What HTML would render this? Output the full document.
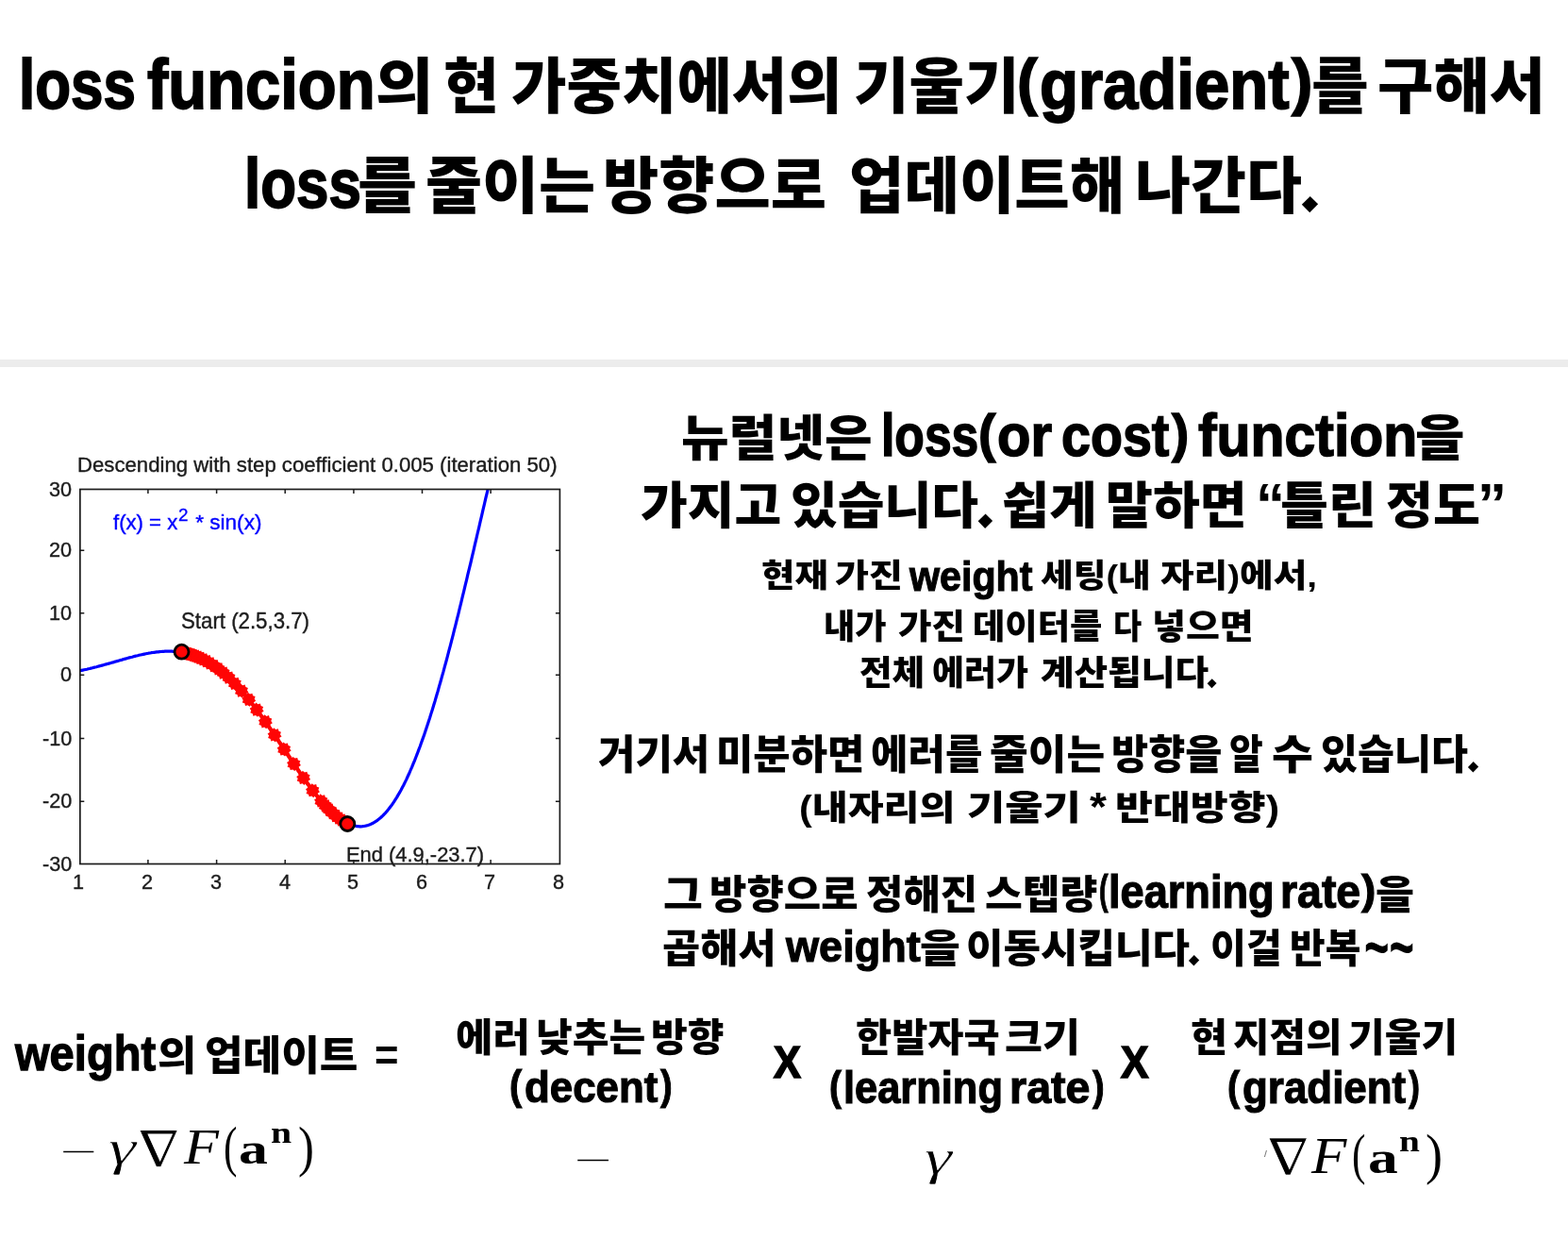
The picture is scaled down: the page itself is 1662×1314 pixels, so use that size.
<!DOCTYPE html>
<html lang="ko"><head><meta charset="utf-8"><title>Gradient descent</title>
<style>
html,body{margin:0;padding:0;background:#fff}
body{width:1662px;height:1314px;position:relative;overflow:hidden}
.t{position:absolute;white-space:pre;line-height:1;transform-origin:0 0;color:#000;font-weight:900}
.g{margin:0;padding:0;font-size:16px;font-weight:normal}
.s{font-family:"Liberation Sans","Noto Sans CJK KR",sans-serif}
.r{font-family:"Liberation Serif","DejaVu Serif",serif}
#sep{position:absolute;left:0;top:381px;width:1662px;height:8px;background:#ececec}
#chart{position:absolute;left:0;top:0}
</style></head><body>
<div id="sep"></div>
<i style="position:absolute;left:1341.2px;top:1219px;width:1.4px;height:6.5px;background:#777;transform:skewX(-16deg)"></i>
<svg id="chart" width="1662" height="1314" viewBox="0 0 1662 1314">
<defs><clipPath id="cb"><rect x="84.8" y="518.5" width="508.5" height="397.0"/></clipPath></defs>
<path d="M84.8 710.7L86.3 710.4L87.8 710.1L89.2 709.8L90.7 709.5L92.1 709.2L93.6 708.8L95.0 708.5L96.5 708.1L97.9 707.8L99.4 707.4L100.8 707.0L102.3 706.7L103.7 706.3L105.2 705.9L106.6 705.5L108.1 705.1L109.6 704.7L111.0 704.3L112.5 703.9L113.9 703.5L115.4 703.1L116.8 702.7L118.3 702.3L119.7 701.9L121.2 701.4L122.6 701.0L124.1 700.6L125.5 700.2L127.0 699.8L128.4 699.4L129.9 698.9L131.3 698.5L132.8 698.1L134.3 697.7L135.7 697.3L137.2 696.9L138.6 696.5L140.1 696.2L141.5 695.8L143.0 695.4L144.4 695.0L145.9 694.7L147.3 694.3L148.8 694.0L150.2 693.7L151.7 693.4L153.1 693.1L154.6 692.8L156.0 692.5L157.5 692.2L159.0 692.0L160.4 691.7L161.9 691.5L163.3 691.3L164.8 691.1L166.2 690.9L167.7 690.8L169.1 690.6L170.6 690.5L172.0 690.4L173.5 690.3L174.9 690.2L176.4 690.2L177.8 690.2L179.3 690.2L180.7 690.2L182.2 690.2L183.7 690.3L185.1 690.4L186.6 690.5L188.0 690.7L189.5 690.9L190.9 691.1L192.4 691.3L193.8 691.5L195.3 691.8L196.7 692.1L198.2 692.5L199.6 692.8L201.1 693.2L202.5 693.7L204.0 694.1L205.4 694.6L206.9 695.1L208.4 695.7L209.8 696.3L211.3 696.9L212.7 697.5L214.2 698.2L215.6 698.9L217.1 699.7L218.5 700.4L220.0 701.2L221.4 702.1L222.9 703.0L224.3 703.9L225.8 704.8L227.2 705.8L228.7 706.8L230.2 707.9L231.6 709.0L233.1 710.1L234.5 711.2L236.0 712.4L237.4 713.7L238.9 714.9L240.3 716.2L241.8 717.5L243.2 718.9L244.7 720.3L246.1 721.7L247.6 723.1L249.0 724.6L250.5 726.1L251.9 727.7L253.4 729.3L254.9 730.9L256.3 732.5L257.8 734.2L259.2 735.9L260.7 737.6L262.1 739.3L263.6 741.1L265.0 742.9L266.5 744.8L267.9 746.6L269.4 748.5L270.8 750.4L272.3 752.3L273.7 754.3L275.2 756.2L276.6 758.2L278.1 760.3L279.6 762.3L281.0 764.3L282.5 766.4L283.9 768.5L285.4 770.6L286.8 772.7L288.3 774.8L289.7 776.9L291.2 779.1L292.6 781.2L294.1 783.4L295.5 785.6L297.0 787.7L298.4 789.9L299.9 792.1L301.3 794.3L302.8 796.5L304.3 798.7L305.7 800.9L307.2 803.0L308.6 805.2L310.1 807.4L311.5 809.6L313.0 811.7L314.4 813.9L315.9 816.0L317.3 818.1L318.8 820.2L320.2 822.3L321.7 824.4L323.1 826.4L324.6 828.5L326.0 830.5L327.5 832.5L329.0 834.4L330.4 836.4L331.9 838.3L333.3 840.2L334.8 842.0L336.2 843.8L337.7 845.6L339.1 847.4L340.6 849.1L342.0 850.8L343.5 852.4L344.9 854.0L346.4 855.5L347.8 857.0L349.3 858.5L350.7 859.9L352.2 861.3L353.7 862.6L355.1 863.8L356.6 865.0L358.0 866.2L359.5 867.3L360.9 868.3L362.4 869.3L363.8 870.2L365.3 871.0L366.7 871.8L368.2 872.5L369.6 873.2L371.1 873.7L372.5 874.2L374.0 874.7L375.4 875.0L376.9 875.3L378.4 875.6L379.8 875.7L381.3 875.8L382.7 875.8L384.2 875.7L385.6 875.5L387.1 875.2L388.5 874.9L390.0 874.5L391.4 874.0L392.9 873.4L394.3 872.7L395.8 872.0L397.2 871.1L398.7 870.2L400.2 869.1L401.6 868.0L403.1 866.8L404.5 865.5L406.0 864.1L407.4 862.6L408.9 861.1L410.3 859.4L411.8 857.6L413.2 855.8L414.7 853.8L416.1 851.8L417.6 849.6L419.0 847.4L420.5 845.1L421.9 842.6L423.4 840.1L424.9 837.5L426.3 834.8L427.8 832.0L429.2 829.1L430.7 826.1L432.1 823.0L433.6 819.8L435.0 816.5L436.5 813.1L437.9 809.7L439.4 806.1L440.8 802.5L442.3 798.7L443.7 794.9L445.2 791.0L446.6 787.0L448.1 782.9L449.6 778.7L451.0 774.5L452.5 770.1L453.9 765.7L455.4 761.2L456.8 756.6L458.3 751.9L459.7 747.2L461.2 742.4L462.6 737.5L464.1 732.5L465.5 727.4L467.0 722.3L468.4 717.1L469.9 711.9L471.3 706.6L472.8 701.2L474.3 695.7L475.7 690.2L477.2 684.7L478.6 679.1L480.1 673.4L481.5 667.7L483.0 661.9L484.4 656.1L485.9 650.3L487.3 644.4L488.8 638.4L490.2 632.4L491.7 626.4L493.1 620.4L494.6 614.3L496.0 608.2L497.5 602.1L499.0 596.0L500.4 589.8L501.9 583.6L503.3 577.4L504.8 571.2L506.2 565.0L507.7 558.8L509.1 552.6L510.6 546.4L512.0 540.1L513.5 533.9L514.9 527.7L516.4 521.6L517.8 515.4L519.3 509.2L520.7 503.1L522.2 497.0L523.7 491.0L525.1 484.9L526.6 478.9L528.0 473.0L529.5 467.0L530.9 461.2L532.4 455.3L533.8 449.6L535.3 443.8" fill="none" stroke="#0000ff" stroke-width="3.2" stroke-linejoin="round" clip-path="url(#cb)"/>
<path d="M193.8 691.5L194.6 691.7L195.9 691.9L197.4 692.3L199.0 692.7L200.7 693.1L202.6 693.7L204.7 694.3L207.0 695.2L209.5 696.1L212.3 697.3L215.4 698.8L218.9 700.6L222.7 702.8L226.9 705.6L231.5 708.9L236.7 713.1L242.5 718.2L248.9 724.5L255.9 732.1L263.7 741.3L272.2 752.2L281.3 764.8L291.0 778.9L301.2 794.0L311.5 809.5L321.7 824.4L331.4 837.7L340.4 848.9L344.8 853.9L348.9 858.1L352.6 861.7L356.1 864.6L359.2 867.0L361.9 869.0L364.4 870.5L366.6 871.7L368.2 872.5" fill="none" stroke="#ff0505" stroke-width="4.2" stroke-linejoin="round"/>
<g fill="#ff0505"><polygon points="201.3,693.0 199.0,694.5 199.0,697.1 196.3,697.0 194.7,699.1 192.6,697.4 190.1,698.1 189.4,695.6 186.9,694.7 187.9,692.2 186.4,690.0 188.6,688.6 188.7,685.9 191.3,686.1 193.0,684.0 195.0,685.7 197.6,684.9 198.2,687.5 200.7,688.4 199.8,690.8"/><polygon points="202.0,693.2 199.8,694.6 199.7,697.3 197.1,697.1 195.5,699.2 193.4,697.6 190.9,698.3 190.2,695.7 187.7,694.8 188.6,692.4 187.1,690.2 189.4,688.7 189.5,686.1 192.1,686.2 193.7,684.1 195.8,685.8 198.3,685.1 199.0,687.6 201.5,688.5 200.6,691.0"/><polygon points="203.4,693.5 201.1,694.9 201.1,697.5 198.4,697.4 196.8,699.5 194.7,697.8 192.2,698.6 191.5,696.0 189.0,695.1 190.0,692.6 188.5,690.4 190.7,689.0 190.8,686.3 193.4,686.5 195.1,684.4 197.1,686.1 199.7,685.3 200.3,687.9 202.8,688.8 201.9,691.3"/><polygon points="204.8,693.8 202.6,695.2 202.5,697.9 199.9,697.7 198.2,699.8 196.2,698.1 193.6,698.9 193.0,696.3 190.5,695.4 191.4,693.0 189.9,690.8 192.2,689.3 192.2,686.7 194.9,686.8 196.5,684.7 198.6,686.4 201.1,685.7 201.8,688.2 204.3,689.1 203.3,691.6"/><polygon points="206.4,694.2 204.2,695.6 204.1,698.3 201.5,698.1 199.8,700.2 197.8,698.5 195.2,699.3 194.5,696.7 192.1,695.8 193.0,693.3 191.5,691.1 193.7,689.7 193.8,687.1 196.5,687.2 198.1,685.1 200.2,686.8 202.7,686.0 203.4,688.6 205.9,689.5 204.9,692.0"/><polygon points="208.2,694.6 205.9,696.1 205.8,698.7 203.2,698.6 201.6,700.7 199.5,699.0 197.0,699.7 196.3,697.2 193.8,696.3 194.7,693.8 193.3,691.6 195.5,690.2 195.6,687.5 198.2,687.7 199.8,685.6 201.9,687.2 204.4,686.5 205.1,689.1 207.6,690.0 206.7,692.4"/><polygon points="210.1,695.2 207.8,696.6 207.7,699.3 205.1,699.1 203.5,701.2 201.4,699.6 198.9,700.3 198.2,697.7 195.7,696.8 196.6,694.4 195.2,692.2 197.4,690.7 197.5,688.1 200.1,688.2 201.7,686.1 203.8,687.8 206.3,687.1 207.0,689.6 209.5,690.5 208.6,693.0"/><polygon points="212.2,695.9 209.9,697.3 209.8,699.9 207.2,699.8 205.6,701.9 203.5,700.2 201.0,701.0 200.3,698.4 197.8,697.5 198.7,695.0 197.3,692.8 199.5,691.4 199.6,688.7 202.2,688.9 203.8,686.8 205.9,688.5 208.4,687.7 209.1,690.3 211.6,691.2 210.7,693.7"/><polygon points="214.5,696.7 212.2,698.1 212.1,700.8 209.5,700.6 207.9,702.7 205.8,701.0 203.3,701.8 202.6,699.2 200.1,698.3 201.0,695.8 199.6,693.6 201.8,692.2 201.9,689.6 204.5,689.7 206.1,687.6 208.2,689.3 210.7,688.5 211.4,691.1 213.9,692.0 213.0,694.5"/><polygon points="217.0,697.7 214.8,699.1 214.7,701.7 212.0,701.6 210.4,703.7 208.4,702.0 205.8,702.8 205.1,700.2 202.6,699.3 203.6,696.8 202.1,694.6 204.3,693.2 204.4,690.5 207.1,690.7 208.7,688.6 210.7,690.3 213.3,689.5 214.0,692.1 216.5,693.0 215.5,695.5"/><polygon points="219.8,698.9 217.6,700.3 217.5,702.9 214.8,702.8 213.2,704.9 211.2,703.2 208.6,704.0 207.9,701.4 205.4,700.5 206.4,698.0 204.9,695.8 207.1,694.4 207.2,691.7 209.9,691.9 211.5,689.8 213.5,691.5 216.1,690.7 216.8,693.3 219.3,694.2 218.3,696.7"/><polygon points="222.9,700.3 220.7,701.8 220.6,704.4 217.9,704.3 216.3,706.4 214.2,704.7 211.7,705.4 211.0,702.9 208.5,702.0 209.5,699.5 208.0,697.3 210.2,695.9 210.3,693.2 212.9,693.4 214.6,691.3 216.6,692.9 219.2,692.2 219.9,694.8 222.4,695.7 221.4,698.1"/><polygon points="226.3,702.1 224.1,703.6 224.0,706.2 221.4,706.1 219.7,708.2 217.7,706.5 215.1,707.2 214.4,704.7 211.9,703.8 212.9,701.3 211.4,699.1 213.6,697.7 213.7,695.0 216.4,695.2 218.0,693.1 220.1,694.7 222.6,694.0 223.3,696.6 225.8,697.5 224.8,699.9"/><polygon points="230.1,704.3 227.9,705.8 227.8,708.4 225.1,708.3 223.5,710.4 221.5,708.7 218.9,709.5 218.2,706.9 215.7,706.0 216.7,703.5 215.2,701.3 217.4,699.9 217.5,697.2 220.2,697.4 221.8,695.3 223.8,697.0 226.4,696.2 227.1,698.8 229.6,699.7 228.6,702.2"/><polygon points="234.3,707.1 232.1,708.5 232.0,711.2 229.4,711.0 227.7,713.1 225.7,711.4 223.1,712.2 222.4,709.6 220.0,708.7 220.9,706.2 219.4,704.1 221.6,702.6 221.7,700.0 224.4,700.1 226.0,698.0 228.1,699.7 230.6,698.9 231.3,701.5 233.8,702.4 232.8,704.9"/><polygon points="239.0,710.4 236.8,711.9 236.7,714.5 234.0,714.4 232.4,716.5 230.3,714.8 227.8,715.5 227.1,713.0 224.6,712.1 225.6,709.6 224.1,707.4 226.3,706.0 226.4,703.3 229.0,703.5 230.7,701.4 232.7,703.0 235.3,702.3 236.0,704.9 238.5,705.8 237.5,708.2"/><polygon points="244.2,714.6 242.0,716.0 241.9,718.7 239.2,718.5 237.6,720.6 235.5,719.0 233.0,719.7 232.3,717.1 229.8,716.2 230.8,713.8 229.3,711.6 231.5,710.1 231.6,707.5 234.2,707.6 235.9,705.5 237.9,707.2 240.5,706.5 241.2,709.0 243.6,709.9 242.7,712.4"/><polygon points="249.9,719.7 247.7,721.1 247.6,723.8 245.0,723.6 243.4,725.7 241.3,724.1 238.8,724.8 238.1,722.2 235.6,721.3 236.5,718.9 235.0,716.7 237.3,715.2 237.4,712.6 240.0,712.7 241.6,710.6 243.7,712.3 246.2,711.6 246.9,714.1 249.4,715.0 248.5,717.5"/><polygon points="256.3,726.0 254.1,727.4 254.0,730.1 251.4,729.9 249.7,732.0 247.7,730.3 245.1,731.1 244.5,728.5 242.0,727.6 242.9,725.1 241.4,722.9 243.7,721.5 243.7,718.9 246.4,719.0 248.0,716.9 250.1,718.6 252.6,717.8 253.3,720.4 255.8,721.3 254.8,723.8"/><polygon points="263.4,733.6 261.2,735.0 261.1,737.7 258.4,737.5 256.8,739.6 254.7,738.0 252.2,738.7 251.5,736.1 249.0,735.2 250.0,732.8 248.5,730.6 250.7,729.1 250.8,726.5 253.4,726.6 255.1,724.5 257.1,726.2 259.7,725.5 260.4,728.0 262.9,728.9 261.9,731.4"/><polygon points="271.1,742.8 268.9,744.2 268.8,746.9 266.2,746.7 264.6,748.8 262.5,747.2 260.0,747.9 259.3,745.3 256.8,744.4 257.7,742.0 256.3,739.8 258.5,738.3 258.6,735.7 261.2,735.8 262.8,733.7 264.9,735.4 267.4,734.7 268.1,737.2 270.6,738.1 269.7,740.6"/><polygon points="279.6,753.7 277.4,755.1 277.3,757.8 274.7,757.6 273.0,759.7 271.0,758.1 268.4,758.8 267.7,756.2 265.3,755.3 266.2,752.9 264.7,750.7 266.9,749.2 267.0,746.6 269.7,746.7 271.3,744.6 273.4,746.3 275.9,745.6 276.6,748.1 279.1,749.0 278.1,751.5"/><polygon points="288.8,766.3 286.5,767.7 286.4,770.4 283.8,770.2 282.2,772.3 280.1,770.6 277.6,771.4 276.9,768.8 274.4,767.9 275.3,765.4 273.9,763.3 276.1,761.8 276.2,759.2 278.8,759.3 280.4,757.2 282.5,758.9 285.0,758.1 285.7,760.7 288.2,761.6 287.3,764.1"/><polygon points="298.5,780.4 296.3,781.8 296.2,784.5 293.5,784.3 291.9,786.4 289.8,784.8 287.3,785.5 286.6,782.9 284.1,782.0 285.1,779.6 283.6,777.4 285.8,775.9 285.9,773.3 288.5,773.4 290.2,771.3 292.2,773.0 294.8,772.3 295.5,774.8 297.9,775.7 297.0,778.2"/><polygon points="308.6,795.5 306.4,797.0 306.3,799.6 303.7,799.5 302.0,801.6 300.0,799.9 297.4,800.6 296.7,798.1 294.3,797.2 295.2,794.7 293.7,792.5 295.9,791.1 296.0,788.4 298.7,788.6 300.3,786.5 302.4,788.1 304.9,787.4 305.6,790.0 308.1,790.9 307.1,793.3"/><polygon points="318.9,811.0 316.7,812.4 316.6,815.1 314.0,815.0 312.3,817.0 310.3,815.4 307.7,816.1 307.1,813.6 304.6,812.7 305.5,810.2 304.0,808.0 306.3,806.5 306.3,803.9 309.0,804.0 310.6,801.9 312.7,803.6 315.2,802.9 315.9,805.4 318.4,806.3 317.4,808.8"/><polygon points="329.1,825.9 326.9,827.3 326.8,830.0 324.2,829.8 322.5,831.9 320.5,830.2 317.9,831.0 317.3,828.4 314.8,827.5 315.7,825.0 314.2,822.9 316.5,821.4 316.5,818.8 319.2,818.9 320.8,816.8 322.9,818.5 325.4,817.7 326.1,820.3 328.6,821.2 327.6,823.7"/><polygon points="338.9,839.2 336.6,840.7 336.6,843.3 333.9,843.2 332.3,845.3 330.2,843.6 327.7,844.3 327.0,841.8 324.5,840.9 325.5,838.4 324.0,836.2 326.2,834.8 326.3,832.1 328.9,832.3 330.6,830.2 332.6,831.8 335.2,831.1 335.8,833.7 338.3,834.6 337.4,837.0"/><polygon points="347.9,850.4 345.6,851.9 345.6,854.5 342.9,854.4 341.3,856.5 339.2,854.8 336.7,855.5 336.0,853.0 333.5,852.1 334.5,849.6 333.0,847.4 335.2,845.9 335.3,843.3 337.9,843.4 339.5,841.3 341.6,843.0 344.1,842.3 344.8,844.8 347.3,845.7 346.4,848.2"/><polygon points="352.3,855.4 350.0,856.8 350.0,859.5 347.3,859.3 345.7,861.4 343.6,859.7 341.1,860.5 340.4,857.9 337.9,857.0 338.9,854.5 337.4,852.3 339.6,850.9 339.7,848.3 342.3,848.4 343.9,846.3 346.0,848.0 348.6,847.2 349.2,849.8 351.7,850.7 350.8,853.2"/><polygon points="356.3,859.6 354.1,861.1 354.0,863.7 351.4,863.6 349.8,865.7 347.7,864.0 345.2,864.7 344.5,862.2 342.0,861.3 342.9,858.8 341.4,856.6 343.7,855.1 343.8,852.5 346.4,852.6 348.0,850.5 350.1,852.2 352.6,851.5 353.3,854.0 355.8,854.9 354.9,857.4"/><polygon points="360.1,863.2 357.9,864.6 357.8,867.3 355.1,867.1 353.5,869.2 351.5,867.5 348.9,868.3 348.2,865.7 345.7,864.8 346.7,862.3 345.2,860.2 347.4,858.7 347.5,856.1 350.2,856.2 351.8,854.1 353.8,855.8 356.4,855.0 357.1,857.6 359.6,858.5 358.6,861.0"/><polygon points="363.5,866.1 361.3,867.6 361.2,870.2 358.6,870.1 356.9,872.2 354.9,870.5 352.3,871.2 351.6,868.7 349.2,867.8 350.1,865.3 348.6,863.1 350.8,861.7 350.9,859.0 353.6,859.2 355.2,857.1 357.3,858.7 359.8,858.0 360.5,860.6 363.0,861.5 362.0,863.9"/><polygon points="366.6,868.5 364.4,870.0 364.3,872.6 361.6,872.5 360.0,874.6 358.0,872.9 355.4,873.6 354.7,871.1 352.2,870.2 353.2,867.7 351.7,865.5 353.9,864.1 354.0,861.4 356.7,861.6 358.3,859.5 360.3,861.1 362.9,860.4 363.6,863.0 366.1,863.9 365.1,866.3"/><polygon points="369.4,870.5 367.2,871.9 367.1,874.6 364.4,874.4 362.8,876.5 360.7,874.9 358.2,875.6 357.5,873.0 355.0,872.1 356.0,869.7 354.5,867.5 356.7,866.0 356.8,863.4 359.4,863.5 361.1,861.4 363.1,863.1 365.7,862.4 366.4,864.9 368.8,865.8 367.9,868.3"/><polygon points="371.9,872.0 369.6,873.5 369.6,876.1 366.9,876.0 365.3,878.1 363.2,876.4 360.7,877.1 360.0,874.6 357.5,873.7 358.5,871.2 357.0,869.0 359.2,867.6 359.3,864.9 361.9,865.1 363.6,863.0 365.6,864.6 368.2,863.9 368.8,866.5 371.3,867.4 370.4,869.8"/><polygon points="374.1,873.2 371.9,874.7 371.8,877.3 369.1,877.2 367.5,879.3 365.4,877.6 362.9,878.4 362.2,875.8 359.7,874.9 360.7,872.4 359.2,870.2 361.4,868.8 361.5,866.1 364.1,866.3 365.8,864.2 367.8,865.9 370.4,865.1 371.0,867.7 373.5,868.6 372.6,871.1"/><polygon points="375.6,874.0 373.4,875.5 373.3,878.1 370.7,878.0 369.1,880.1 367.0,878.4 364.4,879.1 363.8,876.6 361.3,875.7 362.2,873.2 360.7,871.0 363.0,869.6 363.0,866.9 365.7,867.0 367.3,865.0 369.4,866.6 371.9,865.9 372.6,868.4 375.1,869.3 374.1,871.8"/></g>
<rect x="84.85" y="518.50" width="508.55" height="397.00" fill="none" stroke="#1c1c1c" stroke-width="1.7"/>
<path d="M156.9 915.5v-4.5M156.9 518.5v4.5M229.6 915.5v-4.5M229.6 518.5v4.5M302.2 915.5v-4.5M302.2 518.5v4.5M374.9 915.5v-4.5M374.9 518.5v4.5M447.5 915.5v-4.5M447.5 518.5v4.5M520.1 915.5v-4.5M520.1 518.5v4.5M84.8 583.3h4.5M593.4 583.3h-4.5M84.8 649.8h4.5M593.4 649.8h-4.5M84.8 715.3h4.5M593.4 715.3h-4.5M84.8 782.5h4.5M593.4 782.5h-4.5M84.8 849.3h4.5M593.4 849.3h-4.5" fill="none" stroke="#1c1c1c" stroke-width="1.5"/>
<circle cx="192.5" cy="690.7" r="7.5" fill="#ff0505" stroke="#000" stroke-width="2.8"/>
<circle cx="368.3" cy="873.0" r="7.5" fill="#ff0505" stroke="#000" stroke-width="2.8"/>
</svg>
<h1 class="g" id="title"><span class="t s" style="left:19.61px;top:52.00px;font-size:74.577px;transform:scaleX(0.8298);font-weight:700;-webkit-text-stroke:1.86px #000">loss </span><span class="t s" style="left:155.79px;top:52.00px;font-size:74.577px;transform:scaleX(0.8973);font-weight:700;-webkit-text-stroke:1.86px #000">funcion</span><span class="t s" style="left:397.91px;top:60.35px;font-size:64.081px;transform:scaleX(1.0438)">의 </span><span class="t s" style="left:469.69px;top:60.35px;font-size:64.081px;transform:scaleX(1.0044)">현 </span><span class="t s" style="left:541.71px;top:60.35px;font-size:64.081px;transform:scaleX(0.9918)">가중치에서의 </span><span class="t s" style="left:905.31px;top:60.35px;font-size:64.081px;transform:scaleX(0.9919)">기울기</span><span class="t s" style="left:1077.76px;top:53.57px;font-size:65.84px;transform:scaleX(0.9909);font-weight:700;-webkit-text-stroke:1.65px #000">(</span><span class="t s" style="left:1101.94px;top:51.80px;font-size:74.979px;transform:scaleX(0.8944);font-weight:700;-webkit-text-stroke:1.87px #000">gradient</span><span class="t s" style="left:1369.34px;top:53.57px;font-size:65.84px;transform:scaleX(1.0240);font-weight:700;-webkit-text-stroke:1.65px #000">)</span><span class="t s" style="left:1390.24px;top:60.35px;font-size:64.081px;transform:scaleX(1.0296)">를 </span><span class="t s" style="left:1459.98px;top:60.35px;font-size:64.081px;transform:scaleX(1.0072)">구해서</span>
<span class="t s" style="left:258.60px;top:158.10px;font-size:73.908px;transform:scaleX(0.8380);font-weight:700;-webkit-text-stroke:1.85px #000">loss</span><span class="t s" style="left:379.36px;top:165.82px;font-size:64.279px;transform:scaleX(1.0663)">를 </span><span class="t s" style="left:450.96px;top:165.82px;font-size:64.279px;transform:scaleX(1.0155)">줄이는 </span><span class="t s" style="left:639.48px;top:165.82px;font-size:64.279px;transform:scaleX(1.0020)">방향으로  </span><span class="t s" style="left:899.51px;top:165.82px;font-size:64.279px;transform:scaleX(0.9887)">업데이트해 </span><span class="t s" style="left:1203.00px;top:165.82px;font-size:64.279px;transform:scaleX(0.9970)">나간다</span><span class="t s" style="left:1377.42px;top:151.80px;font-size:84.48px;transform-origin:11.88px 64.40px;transform:rotate(45deg) scaleX(1.0000);font-weight:700">.</span></h1>
<h2 class="g" id="lead"><span class="t s" style="left:721.58px;top:438.64px;font-size:52.709px;transform:scaleX(1.0452)">뉴럴넷은 </span><span class="t s" style="left:933.92px;top:430.30px;font-size:63.331px;transform:scaleX(0.8154);font-weight:700;-webkit-text-stroke:1.58px #000">loss</span><span class="t s" style="left:1037.30px;top:431.82px;font-size:55.719px;transform:scaleX(0.9925);font-weight:700;-webkit-text-stroke:1.39px #000">(</span><span class="t s" style="left:1057.11px;top:430.30px;font-size:63.331px;transform:scaleX(0.9156);font-weight:700;-webkit-text-stroke:1.58px #000">or </span><span class="t s" style="left:1125.36px;top:430.30px;font-size:63.331px;transform:scaleX(0.8779);font-weight:700;-webkit-text-stroke:1.58px #000">cost</span><span class="t s" style="left:1241.88px;top:431.82px;font-size:55.719px;transform:scaleX(0.9813);font-weight:700;-webkit-text-stroke:1.39px #000">) </span><span class="t s" style="left:1269.82px;top:430.30px;font-size:63.331px;transform:scaleX(0.9302);font-weight:700;-webkit-text-stroke:1.58px #000">function</span><span class="t s" style="left:1499.92px;top:438.64px;font-size:52.709px;transform:scaleX(1.0818)">을</span>
<span class="t s" style="left:679.16px;top:510.18px;font-size:53.796px;transform:scaleX(1.0044)">가지고 </span><span class="t s" style="left:838.31px;top:510.18px;font-size:53.796px;transform:scaleX(1.0059)">있습니다</span><span class="t s" style="left:1033.88px;top:495.00px;font-size:75.52px;transform-origin:10.62px 57.10px;transform:rotate(45deg) scaleX(1.0000);font-weight:700">. </span><span class="t s" style="left:1061.59px;top:510.18px;font-size:53.796px;transform:scaleX(1.0176)">쉽게 </span><span class="t s" style="left:1172.16px;top:510.18px;font-size:53.796px;transform:scaleX(1.0091)">말하면 </span><span class="t s" style="left:1330.82px;top:504.45px;font-size:60.8px;transform:scaleX(1.0219);font-weight:700">“</span><span class="t s" style="left:1356.97px;top:510.18px;font-size:53.796px;transform:scaleX(1.0300)">틀린 </span><span class="t s" style="left:1468.85px;top:510.18px;font-size:53.796px;transform:scaleX(1.0107)">정도</span><span class="t s" style="left:1565.82px;top:504.45px;font-size:60.8px;transform:scaleX(1.0219);font-weight:700">”</span></h2>
<p class="g" id="p1"><span class="t s" style="left:806.70px;top:594.13px;font-size:33.944px;transform:scaleX(1.1359)">현재 </span><span class="t s" style="left:884.89px;top:594.13px;font-size:33.944px;transform:scaleX(1.1510)">가진 </span><span class="t s" style="left:963.96px;top:588.70px;font-size:44.452px;transform:scaleX(0.9273);font-weight:700;-webkit-text-stroke:1.11px #000">weight </span><span class="t s" style="left:1102.70px;top:594.13px;font-size:33.944px;transform:scaleX(1.1113)">세팅(내 </span><span class="t s" style="left:1229.70px;top:594.13px;font-size:33.944px;transform:scaleX(1.1403)">자리)에서,</span>
<span class="t s" style="left:872.54px;top:646.57px;font-size:36.688px;transform:scaleX(0.9860)">내가 </span><span class="t s" style="left:952.40px;top:646.57px;font-size:36.688px;transform:scaleX(1.0525)">가진 </span><span class="t s" style="left:1030.85px;top:646.57px;font-size:36.688px;transform:scaleX(1.0180)">데이터를 </span><span class="t s" style="left:1180.25px;top:646.57px;font-size:36.688px;transform:scaleX(0.8948)">다 </span><span class="t s" style="left:1220.95px;top:646.57px;font-size:36.688px;transform:scaleX(1.0648)">넣으면</span>
<span class="t s" style="left:910.61px;top:696.35px;font-size:36.886px;transform:scaleX(1.0206)">전체 </span><span class="t s" style="left:987.84px;top:696.35px;font-size:36.886px;transform:scaleX(1.0035)">에러가 </span><span class="t s" style="left:1102.70px;top:696.35px;font-size:36.886px;transform:scaleX(1.0498)">계산됩니다</span><span class="t s" style="left:1278.46px;top:687.40px;font-size:48.64px;transform-origin:6.84px 37.20px;transform:rotate(45deg) scaleX(1.0000);font-weight:700">.</span></p>
<p class="g" id="p2"><span class="t s" style="left:634.33px;top:778.66px;font-size:43.215px;transform:scaleX(0.9922)">거기서 </span><span class="t s" style="left:759.33px;top:778.66px;font-size:43.215px;transform:scaleX(0.9902)">미분하면 </span><span class="t s" style="left:922.56px;top:778.66px;font-size:43.215px;transform:scaleX(0.9927)">에러를 </span><span class="t s" style="left:1048.82px;top:778.66px;font-size:43.215px;transform:scaleX(1.0244)">줄이는 </span><span class="t s" style="left:1177.90px;top:778.66px;font-size:43.215px;transform:scaleX(0.9855)">방향을 </span><span class="t s" style="left:1302.79px;top:778.66px;font-size:43.215px;transform:scaleX(0.8992)">알 </span><span class="t s" style="left:1347.51px;top:778.66px;font-size:43.215px;transform:scaleX(1.1040)">수 </span><span class="t s" style="left:1399.97px;top:778.66px;font-size:43.215px;transform:scaleX(0.9816)">있습니다</span><span class="t s" style="left:1553.76px;top:771.00px;font-size:55.04px;transform-origin:7.74px 41.70px;transform:rotate(45deg) scaleX(1.0000);font-weight:700">.</span>
<span class="t s" style="left:847.27px;top:838.56px;font-size:36.609px;transform:scaleX(1.1267)">(내자리의 </span><span class="t s" style="left:1025.43px;top:838.56px;font-size:36.609px;transform:scaleX(1.1965)">기울기 </span><span class="t s" style="left:1155.00px;top:833.58px;font-size:42.496px;transform:scaleX(1.0843);font-weight:700">* </span><span class="t s" style="left:1181.77px;top:838.56px;font-size:36.609px;transform:scaleX(1.1858)">반대방향)</span></p>
<p class="g" id="p3"><span class="t s" style="left:702.98px;top:926.75px;font-size:42.622px;transform:scaleX(1.0675)">그 </span><span class="t s" style="left:751.79px;top:926.75px;font-size:42.622px;transform:scaleX(1.0046)">방향으로 </span><span class="t s" style="left:917.93px;top:926.75px;font-size:42.622px;transform:scaleX(1.0060)">정해진 </span><span class="t s" style="left:1043.65px;top:926.75px;font-size:42.622px;transform:scaleX(1.0154)">스텝량</span><span class="t s" style="left:1164.61px;top:920.76px;font-size:44.268px;transform:scaleX(0.6527);font-weight:700;-webkit-text-stroke:1.11px #000">(</span><span class="t s" style="left:1174.84px;top:920.00px;font-size:49.272px;transform:scaleX(0.9167);font-weight:700;-webkit-text-stroke:1.23px #000">learning </span><span class="t s" style="left:1356.68px;top:920.00px;font-size:49.272px;transform:scaleX(0.9426);font-weight:700;-webkit-text-stroke:1.23px #000">rate</span><span class="t s" style="left:1443.37px;top:920.76px;font-size:44.268px;transform:scaleX(1.0387);font-weight:700;-webkit-text-stroke:1.11px #000">)</span><span class="t s" style="left:1457.91px;top:926.75px;font-size:42.622px;transform:scaleX(1.0456)">을</span>
<span class="t s" style="left:702.13px;top:984.86px;font-size:42.523px;transform:scaleX(1.0276)">곱해서 </span><span class="t s" style="left:832.67px;top:978.90px;font-size:47.13px;transform:scaleX(0.9568);font-weight:700;-webkit-text-stroke:1.18px #000">weight</span><span class="t s" style="left:974.95px;top:984.86px;font-size:42.523px;transform:scaleX(1.0946)">을 </span><span class="t s" style="left:1023.99px;top:984.86px;font-size:42.523px;transform:scaleX(1.0101)">이동시킵니다</span><span class="t s" style="left:1258.36px;top:976.10px;font-size:55.04px;transform-origin:7.74px 41.70px;transform:rotate(45deg) scaleX(1.0000);font-weight:700">. </span><span class="t s" style="left:1282.77px;top:984.86px;font-size:42.523px;transform:scaleX(0.9684)">이걸 </span><span class="t s" style="left:1367.08px;top:984.86px;font-size:42.523px;transform:scaleX(0.9627)">반복</span><span class="t s" style="left:1446.38px;top:967.38px;font-size:72.727px;transform:scaleX(0.6227);font-weight:700">~~</span></p>
<div class="g" id="eq-label"><span class="t s" style="left:16.22px;top:1090.70px;font-size:51.548px;transform:scaleX(0.9136);font-weight:700;-webkit-text-stroke:1.29px #000">weight</span><span class="t s" style="left:166.50px;top:1097.83px;font-size:43.413px;transform:scaleX(1.0320)">의 </span><span class="t s" style="left:216.62px;top:1097.83px;font-size:43.413px;transform:scaleX(1.0164)">업데이트  </span><span class="t s" style="left:396.64px;top:1095.64px;font-size:45.824px;transform:scaleX(0.9523);font-weight:700">=</span></div>
<div class="g" id="term1"><span class="t s" style="left:483.36px;top:1080.34px;font-size:41.237px;transform:scaleX(1.0396)">에러 </span><span class="t s" style="left:567.87px;top:1080.34px;font-size:41.237px;transform:scaleX(1.0216)">낮추는 </span><span class="t s" style="left:690.42px;top:1080.34px;font-size:41.237px;transform:scaleX(1.0221)">방향 </span>
<span class="t s" style="left:540.13px;top:1128.20px;font-size:43.655px;transform:scaleX(0.9109);font-weight:700;-webkit-text-stroke:1.09px #000">(</span><span class="t s" style="left:556.18px;top:1129.30px;font-size:46.326px;transform:scaleX(0.9462);font-weight:700;-webkit-text-stroke:1.16px #000">decent</span><span class="t s" style="left:699.57px;top:1128.20px;font-size:43.655px;transform:scaleX(0.8682);font-weight:700;-webkit-text-stroke:1.09px #000">)</span>
<span class="t s" style="left:820.36px;top:1100.75px;font-size:48.772px;transform:scaleX(0.8876);font-weight:700;-webkit-text-stroke:1.71px #000">X</span></div>
<div class="g" id="term2"><span class="t s" style="left:906.90px;top:1080.34px;font-size:41.237px;transform:scaleX(1.0070)">한발자국 </span><span class="t s" style="left:1065.24px;top:1080.34px;font-size:41.237px;transform:scaleX(1.0523)">크기 </span>
<span class="t s" style="left:878.97px;top:1128.51px;font-size:44.064px;transform:scaleX(0.8813);font-weight:700;-webkit-text-stroke:1.10px #000">(</span><span class="t s" style="left:894.43px;top:1129.10px;font-size:47.397px;transform:scaleX(0.9167);font-weight:700;-webkit-text-stroke:1.18px #000">learning </span><span class="t s" style="left:1069.67px;top:1129.10px;font-size:47.397px;transform:scaleX(0.9834);font-weight:700;-webkit-text-stroke:1.18px #000">rate</span><span class="t s" style="left:1157.77px;top:1128.51px;font-size:44.064px;transform:scaleX(0.8602);font-weight:700;-webkit-text-stroke:1.10px #000">)</span>
<span class="t s" style="left:1187.87px;top:1100.75px;font-size:48.772px;transform:scaleX(0.9050);font-weight:700;-webkit-text-stroke:1.71px #000">X</span></div>
<div class="g" id="term3"><span class="t s" style="left:1262.07px;top:1080.08px;font-size:40.941px;transform:scaleX(1.0412)">현 </span><span class="t s" style="left:1307.45px;top:1080.08px;font-size:40.941px;transform:scaleX(1.0221)">지점의 </span><span class="t s" style="left:1429.48px;top:1080.08px;font-size:40.941px;transform:scaleX(1.0282)">기울기 </span>
<span class="t s" style="left:1301.34px;top:1128.51px;font-size:44.064px;transform:scaleX(0.8954);font-weight:700;-webkit-text-stroke:1.10px #000">(</span><span class="t s" style="left:1317.28px;top:1129.10px;font-size:47.397px;transform:scaleX(0.9268);font-weight:700;-webkit-text-stroke:1.18px #000">gradient</span><span class="t s" style="left:1492.75px;top:1128.51px;font-size:44.064px;transform:scaleX(0.8179);font-weight:700;-webkit-text-stroke:1.10px #000">)</span></div>
<div class="g" id="formulas"><span class="t r" style="left:63.96px;top:1208.00px;font-size:25.6px;transform:scaleX(2.7000);font-weight:400">−</span><span class="t r" style="left:115.40px;top:1190.22px;font-size:52.998px;transform:scaleX(1.3975);font-weight:400;font-style:italic;-webkit-text-stroke:0.64px #fff">γ</span><span class="t r" style="left:150.37px;top:1191.82px;font-size:52.881px;transform-origin:18.18px 24.58px;transform:rotate(0deg) scaleX(-1.1829);font-weight:400;-webkit-text-stroke:0.63px #fff">∇</span><span class="t r" style="left:194.54px;top:1189.30px;font-size:53.79px;transform:scaleX(1.1231);font-weight:400;font-style:italic">F</span><span class="t r" style="left:236.94px;top:1186.88px;font-size:58.142px;transform:scaleX(0.7461);font-weight:400">(</span><span class="t r" style="left:253.37px;top:1194.07px;font-size:47.0px;transform:scaleX(1.3163);font-weight:700">a</span><span class="t r" style="left:286.98px;top:1184.10px;font-size:32.413px;transform:scaleX(1.2254);font-weight:700">n</span><span class="t r" style="left:315.81px;top:1186.88px;font-size:58.142px;transform:scaleX(0.8741);font-weight:400">)</span>
<span class="t r" style="left:609.20px;top:1217.20px;font-size:25.6px;transform:scaleX(2.7500);font-weight:400">−</span>
<span class="t r" style="left:979.71px;top:1199.72px;font-size:52.998px;transform:scaleX(1.3879);font-weight:400;font-style:italic;-webkit-text-stroke:0.64px #fff">γ</span>
<span class="t r" style="left:1346.58px;top:1201.22px;font-size:53.573px;transform-origin:18.42px 24.33px;transform:rotate(0deg) scaleX(-1.1763);font-weight:400;-webkit-text-stroke:0.64px #fff">∇</span><span class="t r" style="left:1390.36px;top:1197.80px;font-size:54.857px;transform:scaleX(1.1154);font-weight:400;font-style:italic">F</span><span class="t r" style="left:1432.64px;top:1195.46px;font-size:58.685px;transform:scaleX(0.7392);font-weight:400">(</span><span class="t r" style="left:1449.61px;top:1202.55px;font-size:48.2px;transform:scaleX(1.3189);font-weight:700">a</span><span class="t r" style="left:1483.49px;top:1194.30px;font-size:31.794px;transform:scaleX(1.2374);font-weight:700">n</span><span class="t r" style="left:1511.41px;top:1195.46px;font-size:58.685px;transform:scaleX(0.9238);font-weight:400">)</span></div>
<div class="g" id="chart-labels"><span class="t s" style="left:82.07px;top:482.00px;font-size:22.468px;transform:scaleX(0.9873);font-weight:400;color:#1c1c1c;-webkit-text-stroke:0.40px #1c1c1c">Descending with step coefficient 0.005 (iteration 50)</span>
<span class="t s" style="left:52.08px;top:507.50px;font-size:22.3px;transform:scaleX(0.9700);font-weight:400;color:#1c1c1c;-webkit-text-stroke:0.40px #1c1c1c">30</span>
<span class="t s" style="left:52.08px;top:572.30px;font-size:22.3px;transform:scaleX(0.9700);font-weight:400;color:#1c1c1c;-webkit-text-stroke:0.40px #1c1c1c">20</span>
<span class="t s" style="left:52.08px;top:638.80px;font-size:22.3px;transform:scaleX(0.9700);font-weight:400;color:#1c1c1c;-webkit-text-stroke:0.40px #1c1c1c">10</span>
<span class="t s" style="left:64.11px;top:704.30px;font-size:22.3px;transform:scaleX(0.9700);font-weight:400;color:#1c1c1c;-webkit-text-stroke:0.40px #1c1c1c">0</span>
<span class="t s" style="left:44.88px;top:771.50px;font-size:22.3px;transform:scaleX(0.9700);font-weight:400;color:#1c1c1c;-webkit-text-stroke:0.40px #1c1c1c">-10</span>
<span class="t s" style="left:44.88px;top:838.30px;font-size:22.3px;transform:scaleX(0.9700);font-weight:400;color:#1c1c1c;-webkit-text-stroke:0.40px #1c1c1c">-20</span>
<span class="t s" style="left:44.88px;top:904.50px;font-size:22.3px;transform:scaleX(0.9700);font-weight:400;color:#1c1c1c;-webkit-text-stroke:0.40px #1c1c1c">-30</span>
<span class="t s" style="left:77.30px;top:924.20px;font-size:22.3px;transform:scaleX(0.9700);font-weight:400;color:#1c1c1c;-webkit-text-stroke:0.40px #1c1c1c">1</span>
<span class="t s" style="left:150.12px;top:924.20px;font-size:22.3px;transform:scaleX(0.9700);font-weight:400;color:#1c1c1c;-webkit-text-stroke:0.40px #1c1c1c">2</span>
<span class="t s" style="left:222.94px;top:924.20px;font-size:22.3px;transform:scaleX(0.9700);font-weight:400;color:#1c1c1c;-webkit-text-stroke:0.40px #1c1c1c">3</span>
<span class="t s" style="left:295.59px;top:924.20px;font-size:22.3px;transform:scaleX(0.9700);font-weight:400;color:#1c1c1c;-webkit-text-stroke:0.40px #1c1c1c">4</span>
<span class="t s" style="left:368.24px;top:924.20px;font-size:22.3px;transform:scaleX(0.9700);font-weight:400;color:#1c1c1c;-webkit-text-stroke:0.40px #1c1c1c">5</span>
<span class="t s" style="left:440.72px;top:924.20px;font-size:22.3px;transform:scaleX(0.9700);font-weight:400;color:#1c1c1c;-webkit-text-stroke:0.40px #1c1c1c">6</span>
<span class="t s" style="left:513.37px;top:924.20px;font-size:22.3px;transform:scaleX(0.9700);font-weight:400;color:#1c1c1c;-webkit-text-stroke:0.40px #1c1c1c">7</span>
<span class="t s" style="left:586.19px;top:924.20px;font-size:22.3px;transform:scaleX(0.9700);font-weight:400;color:#1c1c1c;-webkit-text-stroke:0.40px #1c1c1c">8</span>
<span class="t s" style="left:192.00px;top:645.50px;font-size:24.013px;transform:scaleX(0.9267);font-weight:400;color:#1c1c1c;-webkit-text-stroke:0.43px #1c1c1c">Start (2.5,3.7)</span>
<span class="t s" style="left:367.29px;top:894.60px;font-size:22.608px;transform:scaleX(0.9691);font-weight:400;color:#1c1c1c;-webkit-text-stroke:0.41px #1c1c1c">End (4.9,-23.7)</span>
<span class="t s" style="left:119.90px;top:543.40px;font-size:21.927px;transform:scaleX(1.0102);font-weight:400;color:#0000ff;-webkit-text-stroke:0.39px #0000ff">f(x) = x</span><span class="t s" style="left:188.88px;top:535.53px;font-size:19.137px;transform:scaleX(0.9877);font-weight:400;color:#0000ff;-webkit-text-stroke:0.34px #0000ff">2</span><span class="t s" style="left:200.58px;top:543.40px;font-size:21.927px;transform:scaleX(1.0292);font-weight:400;color:#0000ff;-webkit-text-stroke:0.39px #0000ff"> * sin(x)</span></div>
</body></html>
